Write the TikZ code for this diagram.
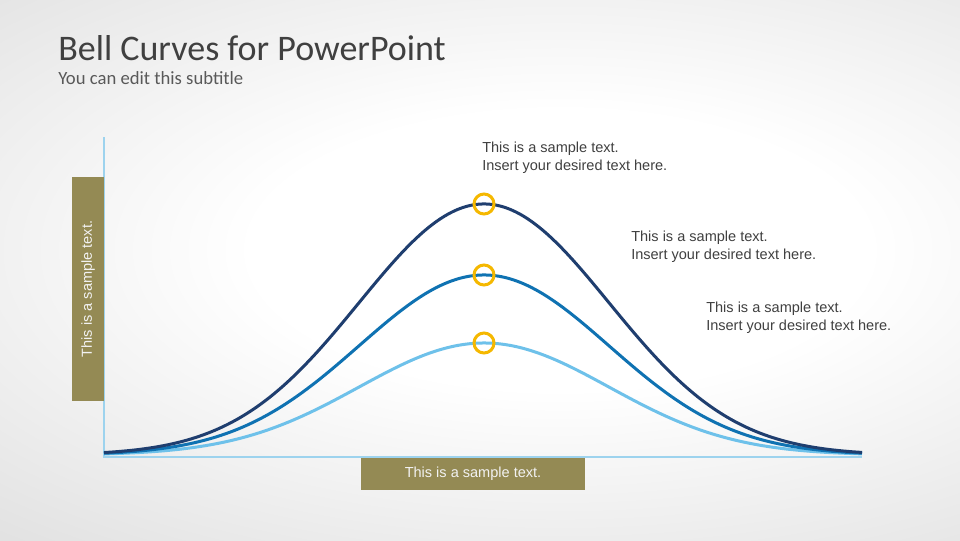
\documentclass[tikz,border=0pt]{standalone}
\usepackage{fontspec}
\setmainfont{Liberation Sans}
\newfontfamily\slidefont{Carlito}
\definecolor{bgrey}{HTML}{DBDBDB}
\definecolor{txtgrey}{HTML}{404040}
\definecolor{subgrey}{HTML}{595959}
\definecolor{olivebox}{HTML}{948A54}
\definecolor{tagtext}{HTML}{F2F2F2}
\definecolor{axisblue}{HTML}{9DD3EE}
\definecolor{darkbell}{HTML}{1F3E6F}
\definecolor{midbell}{HTML}{0F72B2}
\definecolor{lightbell}{HTML}{6EC1EA}
\definecolor{ringyellow}{HTML}{F5B800}
\pgfdeclareradialshading{slidebg}{\pgfpoint{0bp}{0bp}}{color(0bp)=(white); color(12bp)=(white); color(38bp)=(bgrey); color(50bp)=(bgrey)}
\begin{document}
\begin{tikzpicture}[x=0.75pt,y=0.75pt,yscale=-1,xscale=1,
    note/.style={anchor=north west,inner sep=0pt,align=left,text=txtgrey,font=\fontsize{10.9}{13.5}\selectfont},
    tag/.style={fill=olivebox,text=tagtext,inner sep=0pt,font=\fontsize{10.9}{12}\selectfont},
    bell/.style={line width=2.25pt,smooth,samples=150,domain=104:862},
    ring/.style={circle,draw=ringyellow,line width=2.25pt,minimum size=15pt,inner sep=0pt}]
    %background, sets the slide size
    \useasboundingbox (0,0) rectangle (960,540);
    \begin{scope}
    \clip (0,0) rectangle (960,540);
    \shade[shading=slidebg] (-80,-40) rectangle (1200,540);
    \end{scope}
    % Title
    \node (title) at (58,60) [anchor=base west,inner sep=0pt,text=txtgrey,font=\slidefont\fontsize{27}{30}\selectfont] {Bell Curves for PowerPoint};
    \node (subtitle) at (58,84) [anchor=base west,inner sep=0pt,text=subgrey,font=\slidefont\fontsize{14}{16}\selectfont] {You can edit this subtitle};
    % Axes
    \coordinate (ytop) at (104,137);
    \coordinate (origin) at (104,457);
    \coordinate (xend) at (862,457);
    \draw[axisblue,line width=0.9pt] (ytop) -- (origin) -- (xend);
    % Bell curves
    \draw[bell,lightbell] plot (\x,{455-112*exp(-0.5*((\x-484)/125)*((\x-484)/125))});
    \draw[bell,midbell] plot (\x,{455-180*exp(-0.5*((\x-484)/125)*((\x-484)/125))});
    \draw[bell,darkbell] plot (\x,{455-251*exp(-0.5*((\x-484)/125)*((\x-484)/125))});
    % Peak markers
    \node (peakA) at (484,204) [ring] {};
    \node (peakB) at (484,275) [ring] {};
    \node (peakC) at (484,343) [ring] {};
    % Text Node
    \node (noteA) at (482,141.5) [note] {This is a sample text.\\Insert your desired text here.};
    % Text Node
    \node (noteB) at (631,230.5) [note] {This is a sample text.\\Insert your desired text here.};
    % Text Node
    \node (noteC) at (706,301.5) [note] {This is a sample text.\\Insert your desired text here.};
    % Axis tags
    \node (ytag) at (88,289) [tag,rotate=90,minimum width=168pt,minimum height=24pt] {This is a sample text.};
    \node (xtag) at (473,474) [tag,minimum width=168pt,minimum height=24pt] {This is a sample text.};
\end{tikzpicture}
\end{document}
